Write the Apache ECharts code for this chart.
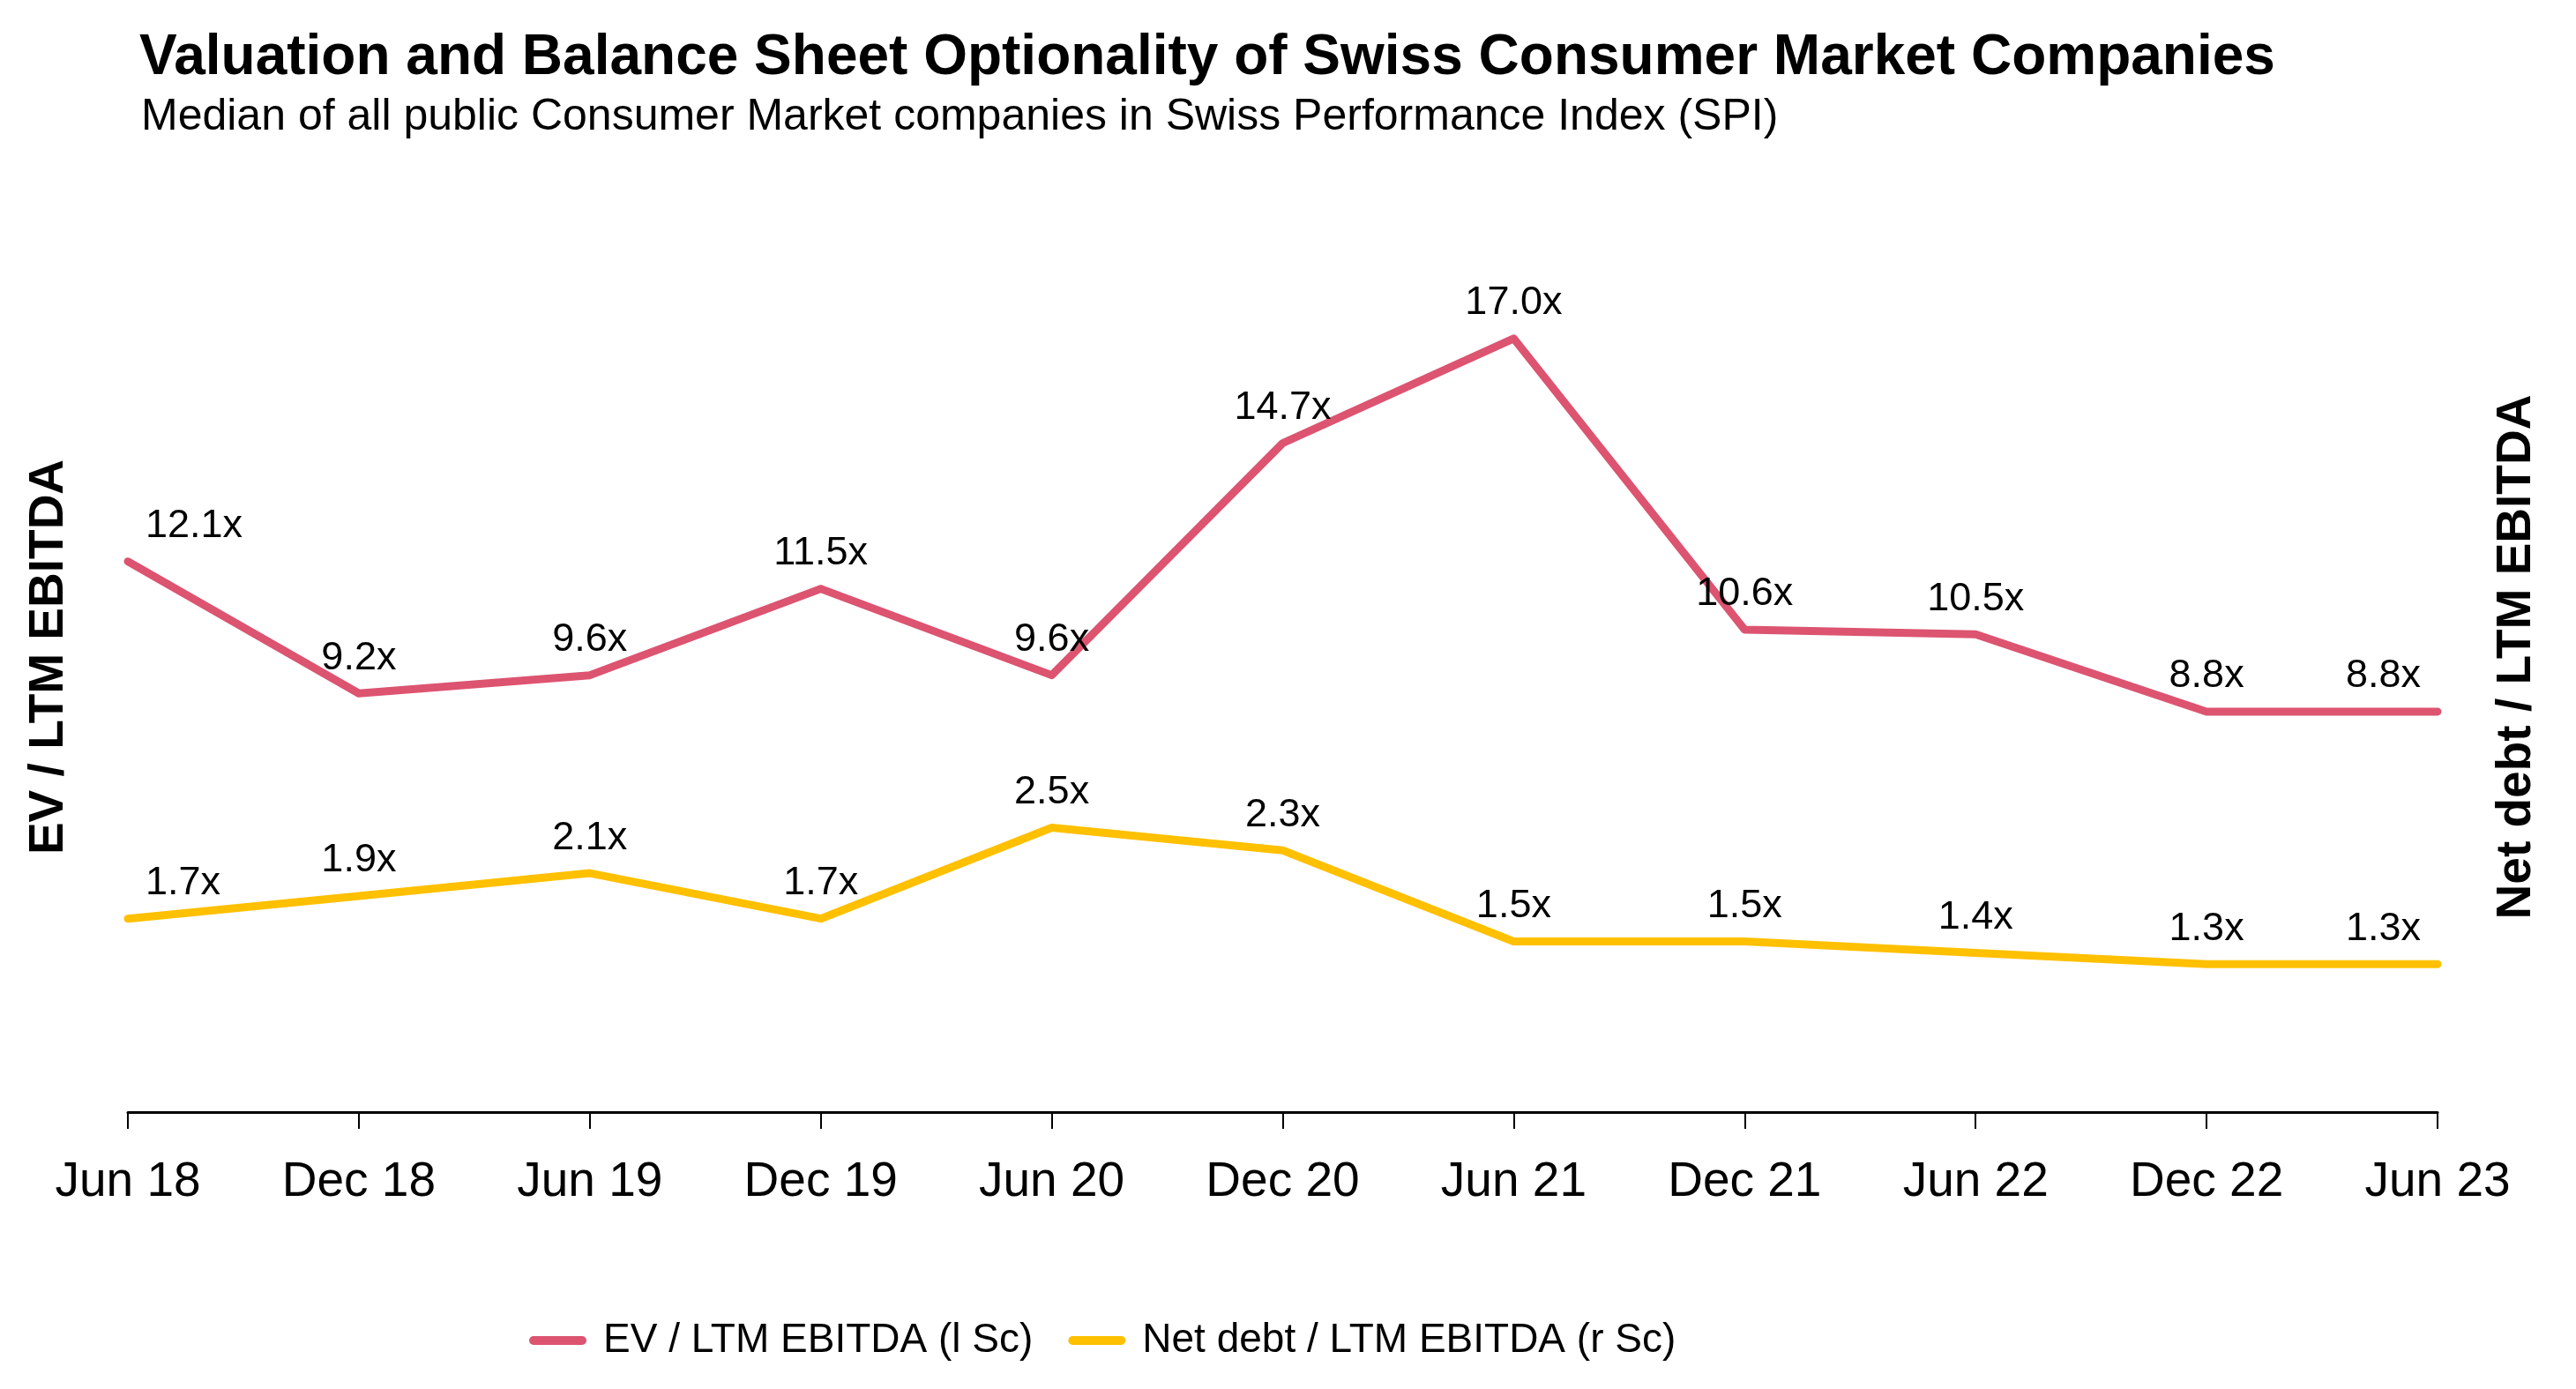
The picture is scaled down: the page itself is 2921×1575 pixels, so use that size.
<!DOCTYPE html>
<html>
<head>
<meta charset="utf-8">
<script src="https://cdn.jsdelivr.net/npm/echarts@6/dist/echarts.min.js"></script>
<style>
html,body{margin:0;padding:0;background:#fff;}
#chart{width:2921px;height:1575px;}
</style>
</head>
<body>
<div id="chart"></div>
<script>
// ---- data ----
const categories = ['Jun 18','Dec 18','Jun 19','Dec 19','Jun 20','Dec 20','Jun 21','Dec 21','Jun 22','Dec 22','Jun 23'];
const evEbitda = [12.1, 9.2, 9.6, 11.5, 9.6, 14.7, 17.0, 10.6, 10.5, 8.8, 8.8];
const netDebtEbitda = [1.7, 1.9, 2.1, 1.7, 2.5, 2.3, 1.5, 1.5, 1.4, 1.3, 1.3];
const seriesNames = ['EV / LTM EBITDA (l Sc)', 'Net debt / LTM EBITDA (r Sc)'];
const titleText = 'Valuation and Balance Sheet Optionality of Swiss Consumer Market Companies';
const subtitleText = 'Median of all public Consumer Market companies in Swiss Performance Index (SPI)';
const leftAxisName = 'EV / LTM EBITDA';
const rightAxisName = 'Net debt / LTM EBITDA';

const FONT = '"Liberation Sans", Arial, Helvetica, sans-serif';
const RED = '#DC5470';
const YELLOW = '#FFC000';

function buildData(values) {
  const n = values.length;
  return values.map((v, i) => {
    const d = { value: v };
    if (i === 0) d.label = { align: 'left', offset: [20, 0] };
    if (i === n - 1) d.label = { align: 'right', offset: [-19, 0] };
    return d;
  });
}

const labelStyle = {
  show: true,
  position: 'top',
  distance: 17,
  color: '#000',
  fontFamily: FONT,
  fontSize: 45,
  lineHeight: 45,
  formatter: p => p.value.toFixed(1) + 'x'
};

const chart = echarts.init(document.getElementById('chart'), null, { renderer: 'canvas' });
chart.setOption({
  animation: false,
  backgroundColor: '#fff',
  title: [
    { text: titleText, left: 158, top: 34, padding: 0,
      textStyle: { fontFamily: FONT, fontWeight: 'bold', fontSize: 64, color: '#000', lineHeight: 64 } },
    { text: subtitleText, left: 160, top: 108, padding: 0,
      textStyle: { fontFamily: FONT, fontWeight: 'normal', fontSize: 50, color: '#000', lineHeight: 50 } }
  ],
  legend: {
    data: seriesNames,
    left: 600,
    top: 1497,
    padding: 0,
    itemWidth: 65,
    itemHeight: 10,
    itemGap: 40,
    icon: 'path://M5,0 L60,0 A5,5 0 0 1 60,10 L5,10 A5,5 0 0 1 5,0 Z',
    textStyle: { fontFamily: FONT, fontSize: 46, color: '#000', padding: [0, 0, 0, 14] }
  },
  grid: { left: 145, right: 157, top: 229, bottom: 314, containLabel: false },
  xAxis: {
    type: 'category',
    data: categories,
    boundaryGap: false,
    axisLine: { show: true, lineStyle: { color: '#000', width: 3 } },
    axisTick: { show: true, length: 19, lineStyle: { color: '#000', width: 2 } },
    axisLabel: { color: '#000', fontFamily: FONT, fontSize: 55, margin: 52, interval: 0 },
    splitLine: { show: false }
  },
  yAxis: [
    { type: 'value', min: 0, max: 20, position: 'left',
      name: leftAxisName, nameLocation: 'middle', nameRotate: 90, nameGap: 62,
      nameTextStyle: { fontFamily: FONT, fontWeight: 'bold', fontSize: 55, color: '#000' },
      axisLine: { show: false }, axisTick: { show: false }, axisLabel: { show: false }, splitLine: { show: false } },
    { type: 'value', min: 0, max: 8, position: 'right',
      name: rightAxisName, nameLocation: 'middle', nameRotate: 90, nameGap: 62,
      nameTextStyle: { fontFamily: FONT, fontWeight: 'bold', fontSize: 55, color: '#000' },
      axisLine: { show: false }, axisTick: { show: false }, axisLabel: { show: false }, splitLine: { show: false } }
  ],
  series: [
    { name: seriesNames[0], type: 'line', yAxisIndex: 0, data: buildData(evEbitda),
      symbol: 'circle', symbolSize: 1, showSymbol: true,
      itemStyle: { color: RED },
      lineStyle: { color: RED, width: 9, cap: 'round', join: 'round' },
      label: labelStyle, z: 3 },
    { name: seriesNames[1], type: 'line', yAxisIndex: 1, data: buildData(netDebtEbitda),
      symbol: 'circle', symbolSize: 1, showSymbol: true,
      itemStyle: { color: YELLOW },
      lineStyle: { color: YELLOW, width: 9, cap: 'round', join: 'round' },
      label: labelStyle, z: 3 }
  ]
});
</script>
</body>
</html>
